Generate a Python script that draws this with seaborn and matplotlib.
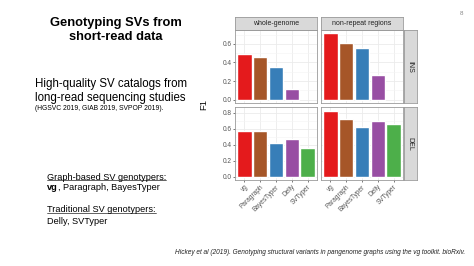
import numpy as np
import pandas as pd
import seaborn as sns
import matplotlib.pyplot as plt
from matplotlib.lines import Line2D

# data
tools = ["vg", "Paragraph", "BayesTyper", "Delly", "SVTyper"]
regions = ["whole-genome", "non-repeat regions"]
sv_types = ["INS", "DEL"]
ins_whole = [0.49, 0.455, 0.35, 0.115, np.nan]
ins_nonrep = [0.713, 0.613, 0.553, 0.268, np.nan]
del_whole = [0.565, 0.565, 0.425, 0.47, 0.357]
del_nonrep = [0.823, 0.716, 0.622, 0.697, 0.652]
palette = ["#E41A1C", "#A65628", "#377EB8", "#984EA3", "#4DAF4A"]

values = {("INS", "whole-genome"): ins_whole, ("INS", "non-repeat regions"): ins_nonrep,
          ("DEL", "whole-genome"): del_whole, ("DEL", "non-repeat regions"): del_nonrep}

sns.set_theme(style="white")
plt.rcParams["font.family"] = ["Liberation Sans", "DejaVu Sans"]

W, H = 474, 266
fig = plt.figure(figsize=(W / 100, H / 100), dpi=100)

def fx(px):
    return px / W

def fy(py):
    return 1 - py / H

border = "#9a9a9a"
strip_fill = "#D9D9D9"
col_x = [(235, 317), (321, 403)]
row_y = [(30, 103), (107.5, 180)]

for r, svt in enumerate(sv_types):
    ymax = max(v for reg in regions for v in values[(svt, reg)] if not np.isnan(v))
    for c, reg in enumerate(regions):
        x0, x1 = col_x[c]
        y0, y1 = row_y[r]
        ax = fig.add_axes([fx(x0), fy(y1), fx(x1 - x0), (y1 - y0) / H])
        df = pd.DataFrame({"tool": tools, "F1": values[(svt, reg)]})
        sns.barplot(data=df, x="tool", y="F1", hue="tool", order=tools, hue_order=tools,
                    palette=palette, width=0.9, saturation=1, legend=False, ax=ax)
        ax.set_xlim(-0.6, 4.6)
        ax.set_ylim(-0.05 * ymax, ymax * 1.05)
        ax.set_facecolor("white")
        ax.set_axisbelow(True)
        if svt == "INS":
            ax.set_yticks([0.0, 0.2, 0.4, 0.6])
            ax.set_yticks([0.1, 0.3, 0.5, 0.7], minor=True)
        else:
            ax.set_yticks([0.0, 0.2, 0.4, 0.6, 0.8])
            ax.set_yticks([0.1, 0.3, 0.5, 0.7], minor=True)
        ax.grid(True, which="major", color="#EBEBEB", linewidth=0.6)
        ax.grid(True, which="minor", axis="y", color="#F4F4F4", linewidth=0.4)
        for s in ax.spines.values():
            s.set_color(border)
            s.set_linewidth(0.6)
        ax.set_xlabel("")
        ax.set_ylabel("")
        ax.tick_params(axis="both", which="major", length=1.5, width=0.5, color="#444444",
                       labelsize=4.7, labelcolor="#555555", pad=1, left=(c == 0), bottom=(r == 1))
        ax.tick_params(which="minor", length=0)
        if c == 0:
            ax.set_yticklabels([f"{t:.1f}" for t in ax.get_yticks()])
        else:
            ax.set_yticklabels([])
        if r == 1:
            ax.set_xticks(range(len(tools)))
            ax.set_xticklabels(tools, rotation=45, ha="right", rotation_mode="anchor")
        else:
            ax.set_xticklabels([])

        # top strips
        if r == 0:
            sax = fig.add_axes([fx(x0), fy(30), fx(x1 - x0), 12.7 / H])
            sax.set_facecolor(strip_fill)
            sax.set_xticks([]); sax.set_yticks([])
            for s in sax.spines.values():
                s.set_color(border); s.set_linewidth(0.6)
            sax.text(0.5, 0.5, reg, ha="center", va="center", fontsize=5, color="#222222",
                     transform=sax.transAxes)
    # right strips
    y0, y1 = row_y[r]
    sax = fig.add_axes([fx(403.5), fy(y1), fx(13.5), (y1 - y0) / H])
    sax.set_facecolor(strip_fill)
    sax.set_xticks([]); sax.set_yticks([])
    for s in sax.spines.values():
        s.set_color(border); s.set_linewidth(0.6)
    sax.text(0.5, 0.5, svt, ha="center", va="center", rotation=-90, fontsize=5,
             color="#222222", transform=sax.transAxes)

fig.text(fx(204), fy(105), "F1", rotation=90, ha="center", va="center", fontsize=6.8, color="#111111")

# slide text
fig.text(fx(116), fy(30), "Genotyping SVs from\nshort-read data", ha="center", va="center",
         fontsize=9.3, fontweight="bold", linespacing=1.2, color="black")
fig.text(fx(35), fy(91), "High-quality SV catalogs from\nlong-read sequencing studies",
         ha="left", va="center", fontsize=8.3, linespacing=1.25, color="black")
fig.text(fx(35), fy(108.5), "(HGSVC 2019, GIAB 2019, SVPOP 2019).", ha="left", va="center",
         fontsize=4.9, color="black")

fig.canvas.draw()
renderer = fig.canvas.get_renderer()

def underlined(x, y, s, size):
    t = fig.text(fx(x), fy(y), s, ha="left", va="center", fontsize=size, color="black")
    bb = t.get_window_extent(renderer)
    uy = bb.y0 + 1.2
    fig.add_artist(Line2D([bb.x0 / W, bb.x1 / W], [uy / H, uy / H], color="#222222", lw=0.5))
    return t

underlined(47, 177, "Graph-based SV genotypers:", 6.6)
t_vg = fig.text(fx(47), fy(188), "vg", ha="left", va="center", fontsize=6.6,
                fontweight="bold", color="black")
bb = t_vg.get_window_extent(renderer)
fig.text(bb.x1 / W, fy(188), ", Paragraph, BayesTyper", ha="left", va="center",
         fontsize=6.6, color="black")
underlined(47, 210, "Traditional SV genotypers:", 6.6)
fig.text(fx(47), fy(221), "Delly, SVTyper", ha="left", va="center", fontsize=6.6, color="black")

fig.text(fx(320), fy(252), "Hickey et al (2019). Genotyping structural variants in pangenome graphs "
         "using the vg toolkit. bioRxiv.", ha="center", va="center", fontsize=4.7,
         style="italic", color="#222222")
fig.text(fx(462), fy(14), "8", ha="center", va="center", fontsize=4.5, color="#888888")

fig.savefig("out.png", dpi=100)
